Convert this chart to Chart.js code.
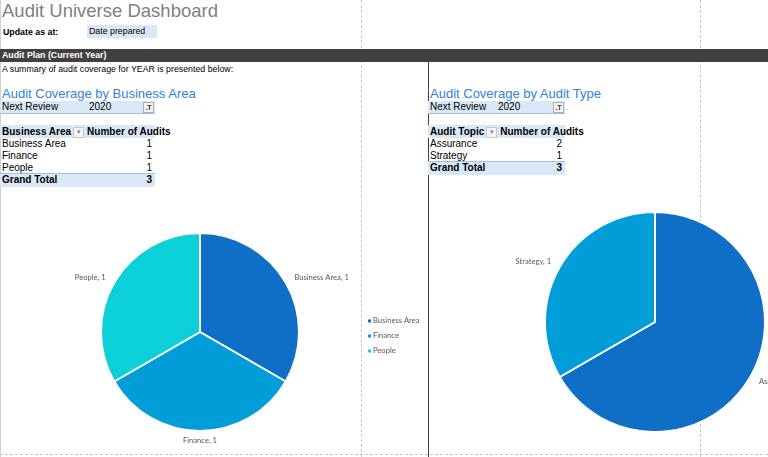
<!DOCTYPE html>
<html>
<head>
<meta charset="utf-8">
<script src="https://cdn.jsdelivr.net/npm/chart.js@4.4.1/dist/chart.umd.min.js"></script>
<style>
body{margin:0;width:768px;height:457px;overflow:hidden;background:#fff;font-family:"Liberation Sans",Arial,sans-serif;position:relative}
.abs{position:absolute;white-space:nowrap}
.vdash{position:absolute;top:0;width:0;height:457px;border-left:1px dashed #c8c8c8}
.hdash{position:absolute;left:0;width:768px;height:0;border-top:1px dashed #c8c8c8}
.cell{position:absolute;font-size:10px;line-height:12px;color:#000;white-space:nowrap}
.blue{background:#d9e8f6}
.pv{position:absolute}
.fbtn{position:absolute;width:9px;height:9px;border:1px solid #b0b0b0;background:#f4f4f4;font-size:7px;line-height:9px;text-align:center;font-weight:bold;color:#333}
.dd{display:inline-block;width:9px;height:9px;border:1px solid #c8c8c8;background:#f4f4f4;font-size:6px;line-height:9px;text-align:center;color:#888;vertical-align:middle;margin:0 3px 0 2px;font-weight:normal}
canvas{position:absolute}
</style>
</head>
<body>
<div class="vdash" style="left:361px"></div>
<div class="vdash" style="left:700px"></div>
<div class="hdash" style="top:454px"></div>
<div style="position:absolute;left:0;top:0;width:1px;height:457px;background:#d0d0d0"></div>

<div class="abs" style="left:2px;top:0;font-size:18.5px;color:#7f7f7f">Audit Universe Dashboard</div>
<div class="abs" style="left:3px;top:26px;font-size:8.8px;font-weight:bold;line-height:12px">Update as at:</div>
<div class="abs blue" style="left:87px;top:25px;width:70px;height:13px;font-size:8.8px;line-height:13px;text-indent:2px">Date prepared</div>

<div class="abs" style="left:0;top:49px;width:768px;height:13px;background:#404040;color:#fff;font-size:8.8px;font-weight:bold;line-height:13px;text-indent:2px">Audit Plan (Current Year)</div>
<div class="abs" style="left:2px;top:63px;font-size:8.8px;line-height:12px">A summary of audit coverage for YEAR is presented below:</div>
<div style="position:absolute;left:428px;top:62px;width:1px;height:395px;background:#404040"></div>

<div id="pv1" class="pv" style="left:0;top:87px"></div>
<div id="pv2" class="pv" style="left:428px;top:87px"></div>

<canvas id="areaPie" width="428" height="267" style="left:0;top:190px"></canvas>
<canvas id="typePie" width="340" height="267" style="left:428px;top:190px"></canvas>

<script>
const reviewYear = '2020';
const areaLabels = ['Business Area', 'Finance', 'People'];
const areaCounts = [1, 1, 1];
const typeLabels = ['Assurance', 'Strategy'];
const typeCounts = [2, 1];
const pieColors = ['#0f6fc6', '#009dd9', '#0bd0d9'];

// pivot table blocks
function buildPivot(id, title, rowHead, labels, counts, w, yearX){
 const el = document.getElementById(id);
 let total = 0;
 counts.forEach(c => total += c);
 let html = '';
 html += `<div class="abs" style="left:2px;top:-1px;font-size:13px;line-height:16px;color:#2e83d9">${title}</div>`;
 html += `<div class="abs blue" style="left:0;top:14px;width:${w}px;height:12px;border-bottom:1px solid #9bc2e6"></div>`;
 html += `<div class="cell" style="left:2px;top:14px">Next Review</div>`;
 html += `<div class="cell" style="left:${yearX}px;top:14px">${reviewYear}</div>`;
 html += `<div class="fbtn" style="left:${w-12}px;top:15px">.T</div>`;
 html += `<div class="abs blue" style="left:0;top:38px;width:${w}px;height:13px"></div>`;
 html += `<div class="cell" style="left:2px;top:39px;font-weight:bold">${rowHead}<span class="dd">&#9660;</span>Number of Audits</div>`;
 labels.forEach((l, i) => {
  html += `<div class="cell" style="left:2px;top:${51 + i*12}px">${l}</div>`;
  html += `<div class="cell" style="left:0;width:${w-3}px;text-align:right;top:${51 + i*12}px">${counts[i]}</div>`;
 });
 const gy = 51 + labels.length*12;
 html += `<div class="abs blue" style="left:0;top:${gy-1}px;width:${w}px;height:13px;border-top:1px solid #9bc2e6"></div>`;
 html += `<div class="cell" style="left:2px;top:${gy}px;font-weight:bold">Grand Total</div>`;
 html += `<div class="cell" style="left:0;width:${w-3}px;text-align:right;top:${gy}px;font-weight:bold">${total}</div>`;
 el.innerHTML = html;
}
buildPivot('pv1', 'Audit Coverage by Business Area', 'Business Area', areaLabels, areaCounts, 155, 89);
buildPivot('pv2', 'Audit Coverage by Audit Type', 'Audit Topic', typeLabels, typeCounts, 137, 70);

// "Label, value" outside each slice
const outsideLabels = {
 id: 'outsideLabels',
 afterDatasetsDraw(chart){
  const ctx = chart.ctx;
  const meta = chart.getDatasetMeta(0);
  ctx.save();
  ctx.font = '7.6px Lato, "Open Sans", sans-serif';
  ctx.fillStyle = '#595959';
  ctx.textBaseline = 'middle';
  meta.data.forEach((arc, i) => {
   const mid = (arc.startAngle + arc.endAngle) / 2;
   const r = arc.outerRadius + 10;
   const x = arc.x + Math.cos(mid) * r;
   const y = arc.y + Math.sin(mid) * r;
   const c = Math.cos(mid);
   ctx.textAlign = c > 0.1 ? 'left' : (c < -0.1 ? 'right' : 'center');
   ctx.fillText(chart.data.labels[i] + ', ' + chart.data.datasets[0].data[i], x, y);
  });
  ctx.restore();
 }
};

// small square legend like excel
const sideLegend = {
 id: 'sideLegend',
 afterDraw(chart){
  const o = chart.options.plugins.sideLegend;
  if(!o || !o.show) return;
  const ctx = chart.ctx;
  ctx.save();
  ctx.font = '7.6px Lato, "Open Sans", sans-serif';
  ctx.textBaseline = 'middle';
  ctx.textAlign = 'left';
  chart.data.labels.forEach((l, i) => {
   const y = o.y + i * 15;
   ctx.fillStyle = chart.data.datasets[0].backgroundColor[i];
   ctx.fillRect(o.x, y - 1.5, 3, 3);
   ctx.fillStyle = '#595959';
   ctx.fillText(l, o.x + 5, y);
  });
  ctx.restore();
 }
};

function makePie(id, labels, counts, pad, legend){
 new Chart(document.getElementById(id), {
  type: 'pie',
  data: {
   labels: labels,
   datasets: [{
    data: counts,
    backgroundColor: pieColors.slice(0, counts.length),
    borderColor: '#ffffff',
    borderWidth: 2
   }]
  },
  options: {
   responsive: false,
   animation: false,
   layout: { padding: pad },
   plugins: {
    legend: { display: false },
    tooltip: { enabled: false },
    sideLegend: legend
   }
  },
  plugins: [outsideLabels, sideLegend]
 });
}

makePie('areaPie', areaLabels, areaCounts, {left: 100, top: 42, right: 128, bottom: 25}, {show: true, x: 368, y: 131});
makePie('typePie', typeLabels, typeCounts, {left: 116, top: 21, right: 2, bottom: 24}, {show: false});
</script>
</body>
</html>
